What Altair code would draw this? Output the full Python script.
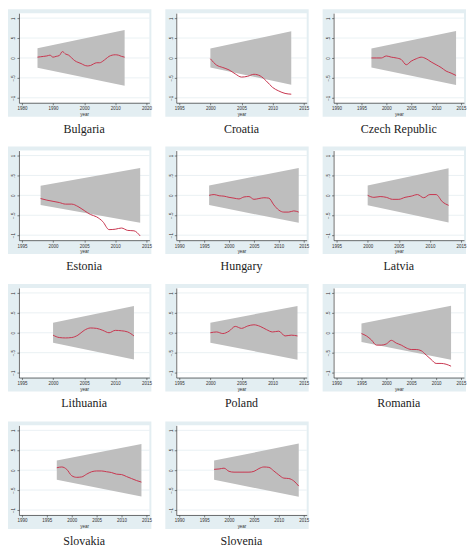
import altair as alt
import pandas as pd

# country panels, in reading order
countries = ["Bulgaria", "Croatia", "Czech Republic", "Estonia", "Hungary", "Latvia",
             "Lithuania", "Poland", "Romania", "Slovakia", "Slovenia"]
first_years = [1985, 2000, 1997, 1998, 1996, 2000, 2000, 2000, 1995, 1997, 1997]

# x-axis range and tick step of each panel
x_min = [1980, 1995, 1990, 1995, 1990, 1995, 1995, 1995, 1990, 1990, 1990]
x_max = [2020, 2015, 2015, 2015, 2015, 2015, 2015, 2015, 2015, 2015, 2015]
x_step = [10, 5, 5, 5, 5, 5, 5, 5, 5, 5, 5]

# half-width of the grey band at its first and last year
band_start = [0.245, 0.24, 0.24, 0.24, 0.245, 0.25, 0.25, 0.25, 0.235, 0.24, 0.24]
band_end = [0.70, 0.67, 0.68, 0.685, 0.69, 0.68, 0.67, 0.675, 0.68, 0.66, 0.67]

bulgaria = [0.02, 0.03, 0.04, 0.05, 0.07, 0.02, 0.04, 0.06, 0.16, 0.10,
            0.07, 0.0, -0.07, -0.11, -0.14, -0.18, -0.20, -0.19, -0.15, -0.12,
            -0.12, -0.08, -0.02, 0.04, 0.07, 0.08, 0.07, 0.04, 0.02]
croatia = [-0.02, -0.18, -0.24, -0.30, -0.40, -0.48, -0.46, -0.41, -0.45, -0.58,
           -0.74, -0.83, -0.89, -0.91]
czech = [0.0, 0.0, 0.0, 0.05, 0.02, 0.0, -0.04, -0.17, -0.08, -0.02,
         0.02, -0.02, -0.10, -0.17, -0.24, -0.33, -0.38, -0.44]
estonia = [-0.08, -0.12, -0.15, -0.18, -0.22, -0.22, -0.28, -0.38, -0.48, -0.54,
           -0.66, -0.86, -0.85, -0.82, -0.88, -0.89, -1.02]
hungary = [0.0, 0.02, -0.01, -0.02, -0.05, -0.07, -0.09, -0.04, -0.03, -0.10,
           -0.08, -0.06, -0.07, -0.24, -0.37, -0.42, -0.42, -0.39, -0.42]
latvia = [0.0, -0.05, -0.03, -0.05, -0.10, -0.10, -0.05, -0.02, 0.02, -0.06,
          0.02, 0.02, -0.16, -0.25]
lithuania = [-0.06, -0.12, -0.13, -0.12, -0.06, 0.06, 0.12, 0.11, 0.06, 0.0,
             0.06, 0.05, 0.02, -0.08]
poland = [0.0, 0.02, -0.02, 0.04, 0.16, 0.11, 0.17, 0.20, 0.16, 0.08,
          0.02, 0.04, -0.08, -0.06, -0.08]
romania = [-0.02, -0.08, -0.18, -0.31, -0.31, -0.28, -0.19, -0.26, -0.31, -0.38,
           -0.42, -0.42, -0.45, -0.56, -0.67, -0.77, -0.77, -0.79, -0.84]
slovakia = [0.06, 0.08, 0.02, -0.14, -0.18, -0.17, -0.10, -0.04, -0.02, -0.02,
            -0.04, -0.06, -0.10, -0.11, -0.16, -0.21, -0.26, -0.30]
slovenia = [0.02, 0.03, 0.05, -0.03, -0.05, -0.05, -0.05, -0.05, -0.03, 0.04,
            0.08, 0.07, -0.02, -0.12, -0.20, -0.21, -0.27, -0.40]

series = [bulgaria, croatia, czech, estonia, hungary, latvia,
          lithuania, poland, romania, slovakia, slovenia]

y_ticks = [-1, -0.5, 0, 0.5, 1]

W, H = 131, 90
FRAME = "#e3eef2"
BAND = "#bebebe"
RED = "#c8354f"
GRID = "#dce8ec"


def panel(i):
    vals = series[i]
    years = list(range(first_years[i], first_years[i] + len(vals)))
    line_df = pd.DataFrame({"year": years, "value": vals})
    band_df = pd.DataFrame({
        "year": [years[0], years[-1]],
        "lo": [-band_start[i], -band_end[i]],
        "hi": [band_start[i], band_end[i]],
    })
    one = pd.DataFrame({"a": [0]})
    grid_df = pd.DataFrame({"v": y_ticks})

    x_axis = alt.Axis(
        values=list(range(x_min[i], x_max[i] + 1, x_step[i])),
        format="d", title="year", grid=False, zindex=1,
        labelFontSize=4.5, titleFontSize=4.5, titleFontWeight="normal",
        titlePadding=1, labelPadding=1, tickSize=2, labelFlush=False,
    )
    y_axis = alt.Axis(
        values=y_ticks, title=None, grid=False, zindex=1,
        labelExpr="replace(format(datum.value, ''), '0.', '.')",
        labelAngle=270, labelFontSize=4.5, labelPadding=1, tickSize=2,
    )
    x_scale = alt.Scale(domain=[x_min[i], x_max[i]], nice=False, zero=False, padding=3)
    y_scale = alt.Scale(domain=[-1, 1], nice=False, zero=False, padding=5)

    frame = alt.Chart(one).mark_rect(color=FRAME, clip=False).encode(
        x=alt.value(-11), x2=alt.value(W + 2), y=alt.value(-4), y2=alt.value(H + 14)
    )
    plot_bg = alt.Chart(one).mark_rect(color="white").encode(
        x=alt.value(0), x2=alt.value(W), y=alt.value(0), y2=alt.value(H)
    )
    grid = alt.Chart(grid_df).mark_rule(color=GRID, strokeWidth=0.6).encode(
        y=alt.Y("v:Q", scale=y_scale, axis=y_axis)
    )
    band = alt.Chart(band_df).mark_area(color=BAND, opacity=1).encode(
        x=alt.X("year:Q", scale=x_scale, axis=x_axis),
        y=alt.Y("lo:Q", scale=y_scale, axis=y_axis),
        y2="hi:Q",
    )
    line = alt.Chart(line_df).mark_line(color=RED, strokeWidth=1, interpolate="monotone").encode(
        x=alt.X("year:Q", scale=x_scale, axis=x_axis),
        y=alt.Y("value:Q", scale=y_scale, axis=y_axis),
    )
    return alt.layer(frame, plot_bg, grid, band, line).properties(
        width=W, height=H,
        title=alt.TitleParams(
            countries[i], orient="bottom", font="Liberation Serif", fontSize=12,
            fontWeight="normal", color="#222222", offset=7,
        ),
    )


chart = alt.concat(
    *[panel(i) for i in range(len(countries))],
    columns=3,
    spacing={"row": 12, "column": 13},
).properties(
    padding=0,
).configure_view(
    strokeWidth=0,
).configure_axis(
    domainColor="#333333", tickColor="#333333", labelColor="#333333",
    titleColor="#333333", domainWidth=0.7, tickWidth=0.6,
    labelFont="Liberation Sans", titleFont="Liberation Sans",
)

chart.save("out.html", embed_options={"renderer": "svg", "actions": False})
